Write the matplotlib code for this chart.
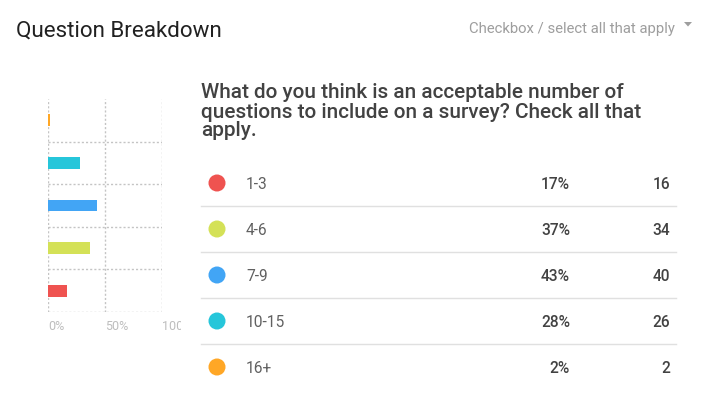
import matplotlib
matplotlib.use("Agg")
import matplotlib.pyplot as plt
from matplotlib.patches import Rectangle, Polygon

plt.rcParams['font.family'] = ['Roboto', 'DejaVu Sans']

# ---- data ----
categories = ["1-3", "4-6", "7-9", "10-15", "16+"]
percents = [17, 37, 43, 28, 2]
counts = [16, 34, 40, 26, 2]
colors = ["#ef5350", "#d4e157", "#42a5f5", "#26c6da", "#ffa726"]
x_ticks = [0, 0.5, 1.0]
x_tick_labels = ["0%", "50%", "100%"]
title = "Question Breakdown"
subtitle = "Checkbox / select all that apply"
question_lines = ["What do you think is an acceptable number of",
                  "questions to include on a survey? Check all that",
                  "apply."]

W, H = 714, 406
fig = plt.figure(figsize=(W / 100, H / 100), dpi=100)
fig.patch.set_facecolor("white")
renderer = fig.canvas.get_renderer()

def px(v):
    return v * 0.72  # px -> pt at 100 dpi

# ---- small bar chart ----
L, R, T, B = 48, 162, 100, 313
axb = fig.add_axes([L / W, 1 - B / H, (R - L) / W, (B - T) / H])
ypos = list(range(len(categories)))
axb.barh(ypos, [p / 100 for p in percents], height=0.28, color=colors,
         edgecolor="none", zorder=3)
axb.set_xlim(0, 1.0)
axb.set_ylim(-0.5, len(categories) - 0.5)
for s in axb.spines.values():
    s.set_visible(False)
grid_kw = dict(color="#c4c4c4", linewidth=1.0, linestyle=(0, (1.5, 1.5)), zorder=1)
for xv in x_ticks:
    axb.axvline(xv, **grid_kw)
for k in range(len(categories)):
    axb.axhline(k - 0.5, **grid_kw)
axb.set_yticks([])
axb.set_xticks(x_ticks)
axb.set_xticklabels(x_tick_labels, fontsize=px(12.5), color="#bdbdbd", ha="left")
axb.tick_params(axis="x", length=0, pad=5)
for lbl in axb.get_xticklabels():
    lbl.set_clip_on(False)

# cover to clip the "100%" label like the reference
fig.add_artist(Rectangle((181 / W, 0), 18 / W, 0.25, transform=fig.transFigure,
                         facecolor="white", edgecolor="none", zorder=5))

# ---- overlay in pixel coordinates ----
ov = fig.add_axes([0, 0, 1, 1], zorder=10)
ov.set_xlim(0, W)
ov.set_ylim(H, 0)
ov.axis("off")
ov.patch.set_alpha(0)

def fitted_text(x, y, s, width_px, ha="left", **kw):
    t = ov.text(x, y, s, ha=ha, va="baseline", fontsize=10, **kw)
    w = t.get_window_extent(renderer=renderer).width
    t.set_fontsize(10 * width_px / w)
    return t

fitted_text(16, 37, title, 206, color="#212121")
fitted_text(675, 33, subtitle, 207, ha="right", color="#9e9e9e")
ov.add_patch(Polygon([[684, 23], [692, 23], [688, 27.5]], closed=True,
                     facecolor="#9e9e9e", edgecolor="none"))

q = fitted_text(201, 98, question_lines[0], 424, color="#424242", fontweight="medium")
qsize = q.get_fontsize()
for line, yb in zip(question_lines[1:], [117.5, 136.5]):
    ov.text(201, yb, line, fontsize=qsize, color="#424242", fontweight="medium",
            ha="left", va="baseline")

row0, step = 184, 46
for i, (c, p, n, col) in enumerate(zip(categories, percents, counts, colors)):
    y = row0 + i * step
    ov.scatter([217], [y], s=150, color=col, edgecolors="none")
    ov.text(246, y + 5, c, fontsize=px(15.5), color="#616161", ha="left", va="baseline")
    ov.text(570, y + 5, f"{p}%", fontsize=px(15.5), color="#424242", fontweight="medium",
            ha="right", va="baseline")
    ov.text(670, y + 5, f"{n}", fontsize=px(15.5), color="#424242", fontweight="medium",
            ha="right", va="baseline")
    if i < len(categories) - 1:
        ov.plot([201, 676], [y + 23, y + 23], color="#e0e0e0", linewidth=1)

fig.savefig("out.png", dpi=100)
